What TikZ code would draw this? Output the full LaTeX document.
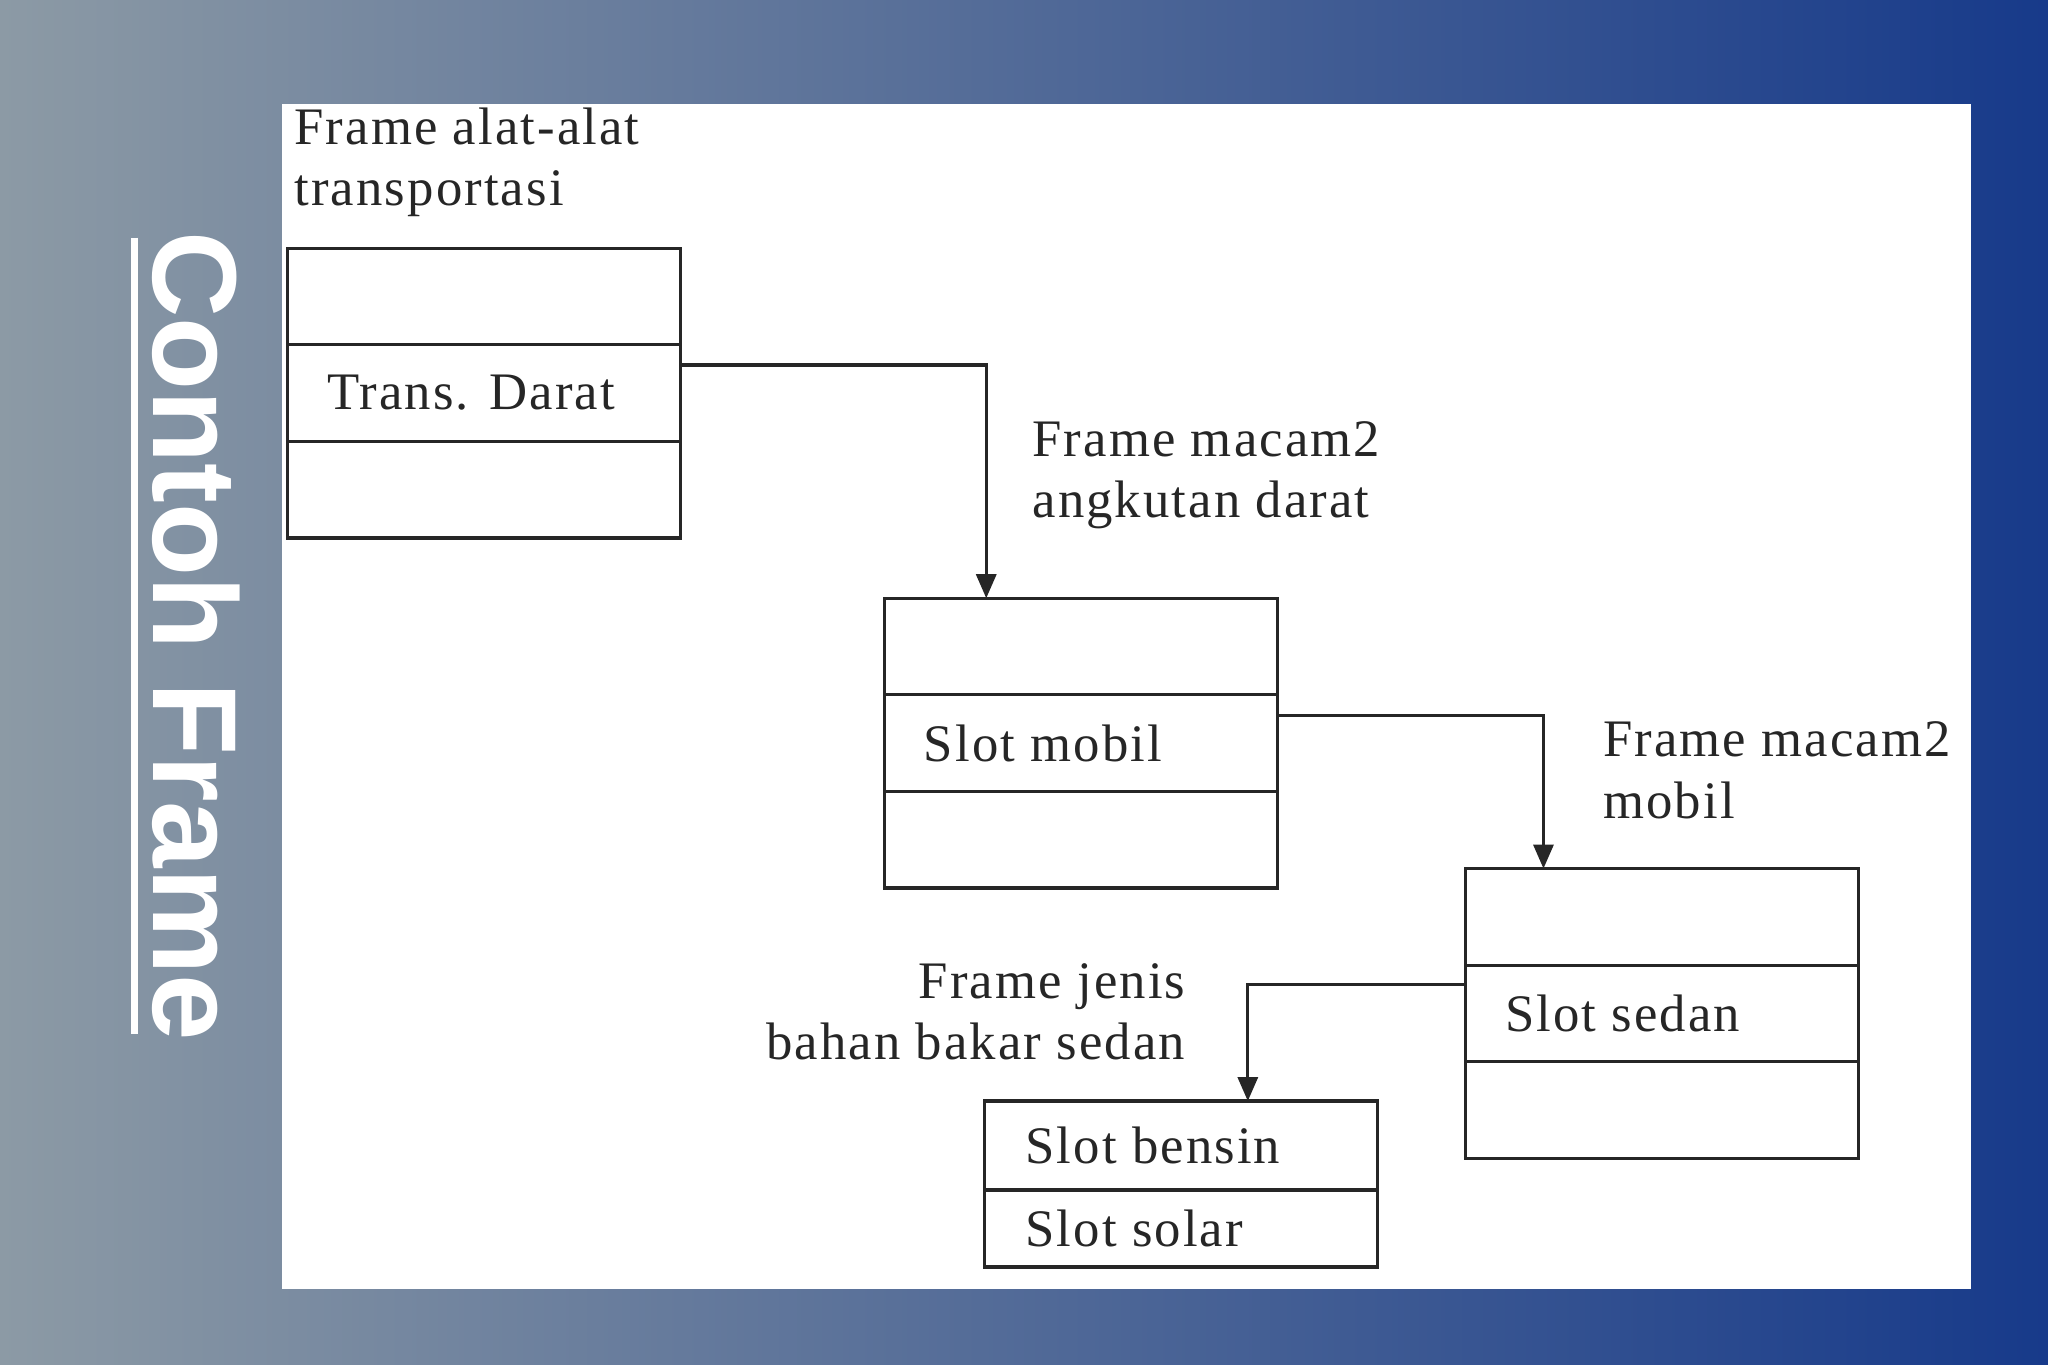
\documentclass[tikz,border=0pt]{standalone}
\usepackage{fontspec}
\setmainfont{Liberation Serif}[LetterSpace=4]
\newfontfamily\titlefont{Liberation Sans}
\usetikzlibrary{arrows.meta,calc}
\definecolor{bgl}{HTML}{8C9AA5}
\definecolor{bgm}{HTML}{3E5C90}
\definecolor{bgr}{HTML}{173A8A}
\tikzset{
  row/.style={draw=black!85, line width=0.9pt, minimum width=3.93cm, minimum height=0.966cm, inner sep=0pt, outer sep=0pt, font=\fontsize{15}{17}\selectfont},
  lbl/.style={font=\fontsize{15}{17.5}\selectfont, inner sep=0pt, text=black!85},
  conn/.style={draw=black!85, line width=0.9pt, -{Triangle[length=0.24cm,width=0.2cm]}},
  slottext/.style={anchor=west, inner sep=0pt, font=\fontsize{15}{17}\selectfont, text=black!85}
}
\begin{document}
\begin{tikzpicture}[x=0.01306cm,y=-0.01306cm]
\useasboundingbox (0,0) rectangle (1568,1045);
\shade[left color=bgl, middle color=bgm, right color=bgr] (0,0) rectangle (1568,1045);
\fill[white] (216,80) rectangle (1509,987);
% title
\node[rotate=-90, text=white, font=\titlefont\bfseries\fontsize{34}{38}\selectfont, inner sep=0pt] (title) at (150,487) {Contoh Frame};
\draw[white, line width=2pt] (103,182) -- (103,792);
% box 1
\node[row, anchor=north west] (b1r1) at (220,190) {};
\node[row, anchor=north] (b1r2) at (b1r1.south) {};
\node[row, anchor=north] (b1r3) at (b1r2.south) {};
\node[slottext] at ([xshift=0.39cm]b1r2.west) {Trans. Darat};
\node[lbl, anchor=north west, align=left] (l1) at (225,82) {Frame alat-alat\\transportasi};
% box 2
\node[row, anchor=north west] (b2r1) at (677,458) {};
\node[row, anchor=north] (b2r2) at (b2r1.south) {};
\node[row, anchor=north] (b2r3) at (b2r2.south) {};
\node[slottext] at ([xshift=0.39cm]b2r2.west) {Slot mobil};
\node[lbl, anchor=north west, align=left] (l2) at (790,322) {Frame macam2\\angkutan darat};
% box 3
\node[row, anchor=north west] (b3r1) at (1122,665) {};
\node[row, anchor=north] (b3r2) at (b3r1.south) {};
\node[row, anchor=north] (b3r3) at (b3r2.south) {};
\node[slottext] at ([xshift=0.39cm]b3r2.west) {Slot sedan};
\node[lbl, anchor=north west, align=left] (l3) at (1227,552) {Frame macam2\\mobil};
% box 4
\node[row, minimum height=0.89cm, anchor=north west] (b4r1) at (754,843) {};
\node[row, minimum height=0.77cm, anchor=north] (b4r2) at (b4r1.south) {};
\node[slottext] at ([xshift=0.4cm]b4r1.west) {Slot bensin};
\node[slottext] at ([xshift=0.4cm]b4r2.west) {Slot solar};
\node[lbl, anchor=north east, align=right] (l4) at (908,737) {Frame jenis\\bahan bakar sedan};
% connectors
\draw[conn] ([yshift=0.28cm]b1r2.east) -| ([xshift=1.02cm]b2r1.north west);
\draw[conn] ([yshift=0.28cm]b2r2.east) -| ([xshift=0.78cm]b3r1.north west);
\draw[conn] ([yshift=0.29cm]b3r2.west) -| ([xshift=2.63cm]b4r1.north west);
\end{tikzpicture}
\end{document}
